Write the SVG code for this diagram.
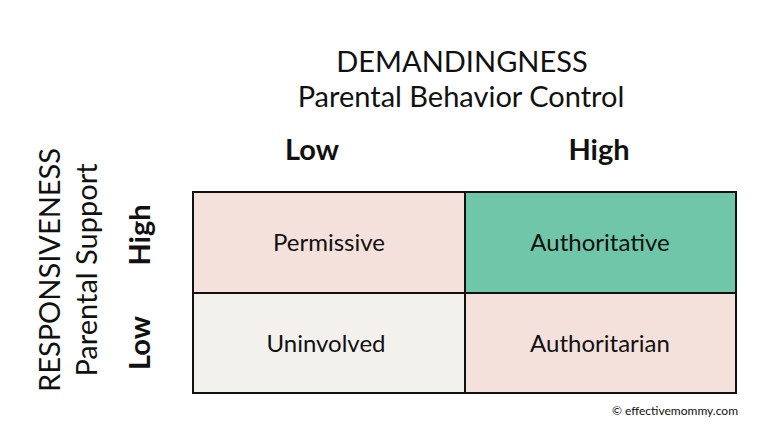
<svg xmlns="http://www.w3.org/2000/svg" width="768" height="432" viewBox="0 0 768 432">
<style>
text{font-family:Lato,"Open Sans",sans-serif;fill:#111}
.t{font-size:29px}
.h{font-size:29px;font-weight:bold}
.c{font-size:24px}
.cell{stroke:#111;stroke-width:2}
</style>
<rect width="768" height="432" fill="#fff"/>
<g id="titles" text-anchor="middle">
<text class="t" x="462" y="72">DEMANDINGNESS</text>
<text class="t" x="461" y="107">Parental Behavior Control</text>
<text class="h" x="312" y="160">Low</text>
<text class="h" x="599" y="160">High</text>
<text class="t" transform="translate(60,270) rotate(-90)">RESPONSIVENESS</text>
<text class="t" transform="translate(97,270) rotate(-90)">Parental Support</text>
<text class="h" transform="translate(150,235) rotate(-90)">High</text>
<text class="h" transform="translate(150,343) rotate(-90)">Low</text>
</g>
<g id="permissive"><rect class="cell" x="193" y="192" width="272" height="101" fill="#f5e1dc"/><text class="c" x="329" y="251" text-anchor="middle">Permissive</text></g>
<g id="authoritative"><rect class="cell" x="465" y="192" width="271" height="101" fill="#6fc6a8"/><text class="c" x="600" y="251" text-anchor="middle">Authoritative</text></g>
<g id="uninvolved"><rect class="cell" x="193" y="293" width="272" height="100" fill="#f3f1ec"/><text class="c" x="326" y="352" text-anchor="middle">Uninvolved</text></g>
<g id="authoritarian"><rect class="cell" x="465" y="293" width="271" height="100" fill="#f5e1dc"/><text class="c" x="600" y="352" text-anchor="middle">Authoritarian</text></g>
<g id="connectors"></g>
<text x="738" y="415" text-anchor="end" style="font-size:12px">© effectivemommy.com</text>
</svg>
